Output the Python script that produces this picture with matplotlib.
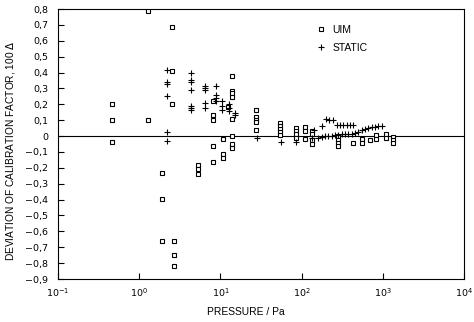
import matplotlib
matplotlib.use("Agg")
import matplotlib.pyplot as plt
from matplotlib.ticker import FixedLocator, FixedFormatter, NullLocator

# UIM calibration results: pressure (Pa) and deviation of calibration factor (100 Δ)
uim_pressure = [
    0.46, 0.46, 0.46,
    1.27, 1.27,
    1.89, 1.89, 1.89,
    2.56, 2.56, 2.56,
    2.72, 2.72, 2.72,
    5.3, 5.3, 5.3,
    8.0, 8.0, 8.0, 8.0, 8.0,
    10.9, 10.9, 10.9,
    12.5,
    13.7, 13.7, 13.7, 13.7, 13.7, 13.7, 13.7, 13.7,
    27.4, 27.4, 27.4, 27.4, 27.4,
    54.2, 54.2, 54.2, 54.2, 54.2,
    85.3, 85.3, 85.3, 85.3,
    108.6, 108.6, 108.6,
    136, 136, 136, 136,
    281, 281, 281, 281,
    424,
    562, 562,
    686,
    832, 832,
    1094, 1094,
    1346, 1346, 1346,
]
uim_deviation = [
    0.20, 0.10, -0.04,
    0.79, 0.10,
    -0.235, -0.395, -0.66,
    0.685, 0.41, 0.20,
    -0.66, -0.75, -0.82,
    -0.18, -0.21, -0.24,
    0.22, 0.135, 0.10, -0.06, -0.165,
    -0.02, -0.11, -0.137,
    0.18,
    0.38, 0.285, 0.268, 0.245, 0.11, 0.0, -0.047, -0.077,
    0.162, 0.118, 0.104, 0.088, 0.04,
    0.08, 0.063, 0.046, 0.025, 0.008,
    0.052, 0.03, 0.01, -0.014,
    0.055, 0.03, -0.02,
    0.035, 0.012, -0.025, -0.052,
    0.003, -0.022, -0.043, -0.06,
    -0.045,
    -0.02, -0.042,
    -0.024,
    0.008, -0.016,
    0.016, -0.01,
    -0.005, -0.026, -0.045,
]

# Static expansion results
static_pressure = [
    2.18, 2.18, 2.18, 2.18, 2.18, 2.18,
    4.34, 4.34, 4.34, 4.34, 4.34, 4.34, 4.34,
    6.46, 6.46, 6.46, 6.46, 6.46,
    8.83, 8.83, 8.83, 8.83,
    10.6, 10.6, 10.6,
    12.8, 12.8, 12.8,
    15.1, 15.1,
    28.3, 55.7, 85.3,
    142, 177, 200, 219, 241, 270, 297, 327, 359, 394, 433,
    133, 161, 177, 194, 213, 235, 258, 283, 312, 342, 376,
    414, 455, 499, 550, 604, 663, 729, 801, 881, 968,
]
static_deviation = [
    0.414, 0.338, 0.328, 0.253, 0.028, -0.032,
    0.40, 0.355, 0.338, 0.29, 0.19, 0.175, 0.162,
    0.314, 0.30, 0.288, 0.21, 0.175,
    0.314, 0.26, 0.24, 0.22,
    0.22, 0.19, 0.165,
    0.20, 0.175, 0.155,
    0.146, 0.13,
    -0.01, -0.036, -0.04,
    0.04, 0.062, 0.108, 0.104, 0.10, 0.072, 0.07, 0.068, 0.07, 0.068, 0.068,
    -0.01, -0.01, -0.003, 0.0, 0.003, 0.003, 0.004, 0.008, 0.011, 0.014, 0.014,
    0.016, 0.02, 0.028, 0.037, 0.045, 0.049, 0.055, 0.06, 0.062, 0.066,
]

y_ticks = [0.8, 0.7, 0.6, 0.5, 0.4, 0.3, 0.2, 0.1, 0.0, -0.1, -0.2, -0.3,
           -0.4, -0.5, -0.6, -0.7, -0.8, -0.9]
y_tick_labels = ["0,8", "0,7", "0,6", "0,5", "0,4", "0,3", "0,2", "0,1", "0",
                 "\u22120,1", "\u22120,2", "\u22120,3", "\u22120,4", "\u22120,5",
                 "\u22120,6", "\u22120,7", "\u22120,8", "\u22120,9"]
x_ticks = [0.1, 1, 10, 100, 1000, 10000]
x_tick_labels = [r"$10^{-1}$", r"$10^{0}$", r"$10^{1}$", r"$10^{2}$",
                 r"$10^{3}$", r"$10^{4}$"]

W, H = 474, 322
fig = plt.figure(figsize=(W / 100, H / 100), dpi=100)
ax = fig.add_axes([58 / W, 1 - 279 / H, (464 - 58) / W, (279 - 9) / H])

ax.set_xscale("log")
ax.set_xlim(0.1, 10000)
ax.set_ylim(-0.9, 0.8)

ax.axhline(0, color="black", lw=0.8, zorder=1)

ax.plot(uim_pressure, uim_deviation, linestyle="none", marker="s",
        markersize=3.4, markerfacecolor="white", markeredgecolor="black",
        markeredgewidth=0.8, label="UIM", zorder=3)
ax.plot(static_pressure, static_deviation, linestyle="none", marker="+",
        markersize=4.2, color="black", markeredgewidth=0.8,
        label="STATIC", zorder=4)

ax.xaxis.set_major_locator(FixedLocator(x_ticks))
ax.xaxis.set_major_formatter(FixedFormatter(x_tick_labels))
ax.xaxis.set_minor_locator(NullLocator())
ax.yaxis.set_major_locator(FixedLocator(y_ticks))
ax.yaxis.set_major_formatter(FixedFormatter(y_tick_labels))

ax.tick_params(axis="both", direction="in", length=4, width=0.8,
               labelsize=6.8, colors="black")
ax.tick_params(axis="y", pad=7)
ax.tick_params(axis="x", pad=5)
for lab in ax.get_yticklabels() + ax.get_xticklabels():
    lab.set_family("DejaVu Sans")

for sp in ax.spines.values():
    sp.set_linewidth(0.8)

leg = ax.legend(loc="upper left", bbox_to_anchor=(0.62, 0.96), frameon=False,
                handlelength=1.2, handletextpad=0.5, labelspacing=0.75,
                borderpad=0, prop={"family": "Liberation Sans", "size": 7.5})

fig.text(246 / W, 1 - 312 / H, "PRESSURE / Pa", ha="center", va="center",
         fontsize=7.4, family="Liberation Sans")
fig.text(11 / W, 1 - 151 / H, "DEVIATION OF CALIBRATION FACTOR, 100 $\\mathit{\\Delta}$",
         ha="center", va="center", rotation=90, fontsize=7.3,
         family="Liberation Sans")

fig.savefig("out.png", dpi=100, facecolor="white")
